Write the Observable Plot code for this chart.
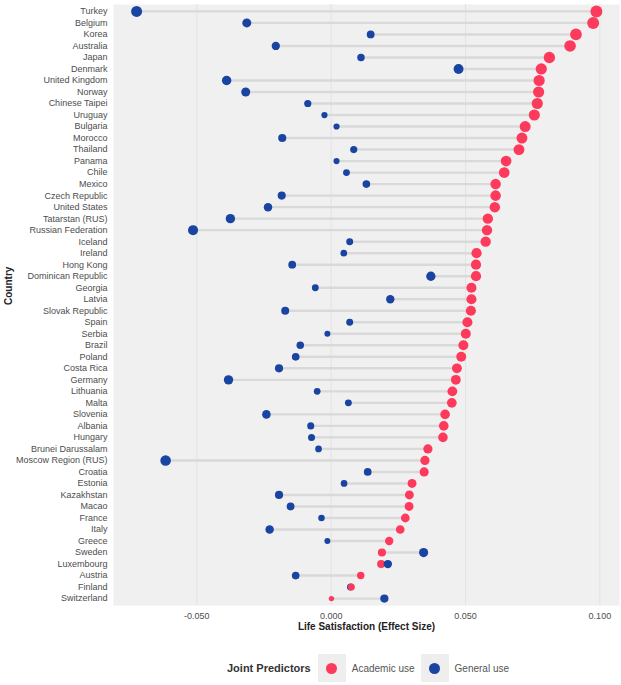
<!DOCTYPE html>
<html>
<head>
<meta charset="utf-8">
<script src="https://cdn.jsdelivr.net/npm/d3@7"></script>
<script src="https://cdn.jsdelivr.net/npm/@observablehq/plot@0.6"></script>
<style>
  html, body { margin: 0; padding: 0; background: #fff; }
  body { width: 621px; height: 685px; overflow: hidden; font-family: "Liberation Sans", Arial, sans-serif; }
  #legend { display: flex; align-items: center; height: 28px; padding-top: 14px; padding-left: 227px; }
  #legend .title { font-weight: bold; font-size: 11px; color: #333; margin-right: 7px; }
  #legend .key { width: 28px; height: 28px; background: #eeeeee; display: flex; align-items: center; justify-content: center; margin-right: 6px; }
  #legend .key span { width: 11px; height: 11px; border-radius: 50%; display: block; }
  #legend .lab { font-size: 10px; color: #555; margin-right: 6px; }
</style>
</head>
<body>
<div id="chart"></div>
<div id="legend"></div>
<script>
// Countries, ordered by the academic-use effect (largest first)
const countries = [
  "Turkey", "Belgium", "Korea", "Australia", "Japan", "Denmark", "United Kingdom",
  "Norway", "Chinese Taipei", "Uruguay", "Bulgaria", "Morocco", "Thailand",
  "Panama", "Chile", "Mexico", "Czech Republic", "United States", "Tatarstan (RUS)",
  "Russian Federation", "Iceland", "Ireland", "Hong Kong", "Dominican Republic",
  "Georgia", "Latvia", "Slovak Republic", "Spain", "Serbia", "Brazil", "Poland",
  "Costa Rica", "Germany", "Lithuania", "Malta", "Slovenia", "Albania", "Hungary",
  "Brunei Darussalam", "Moscow Region (RUS)", "Croatia", "Estonia", "Kazakhstan",
  "Macao", "France", "Italy", "Greece", "Sweden", "Luxembourg", "Austria",
  "Finland", "Switzerland"
];

// Effect size on life satisfaction: academic use of ICT
const academic = [
  0.0987, 0.0975, 0.0911, 0.0889, 0.0812, 0.0782, 0.0774, 0.0772, 0.0767, 0.0756,
  0.0722, 0.0710, 0.0699, 0.0651, 0.0644, 0.0612, 0.0612, 0.0609, 0.0583, 0.0580,
  0.0575, 0.0541, 0.0539, 0.0539, 0.0522, 0.0522, 0.0520, 0.0507, 0.0501, 0.0492,
  0.0484, 0.0468, 0.0464, 0.0451, 0.0449, 0.0424, 0.0419, 0.0416, 0.0360, 0.0349,
  0.0346, 0.0301, 0.0291, 0.0290, 0.0276, 0.0257, 0.0216, 0.0189, 0.0186, 0.0110,
  0.0075, 0.0001
];

// Effect size on life satisfaction: general use of ICT
const general = [
  -0.0724, -0.0314, 0.0147, -0.0206, 0.0111, 0.0474, -0.0389, -0.0318, -0.0087, -0.0025,
  0.0020, -0.0182, 0.0084, 0.0020, 0.0057, 0.0131, -0.0184, -0.0235, -0.0375, -0.0514,
  0.0069, 0.0047, -0.0145, 0.0371, -0.0059, 0.0220, -0.0171, 0.0069, -0.0014, -0.0115,
  -0.0132, -0.0194, -0.0382, -0.0052, 0.0064, -0.0241, -0.0076, -0.0073, -0.0047, -0.0616,
  0.0136, 0.0048, -0.0194, -0.0151, -0.0036, -0.0229, -0.0014, 0.0344, 0.0211, -0.0132,
  0.0072, 0.0198
];

const seriesNames = ["Academic use", "General use"];
const seriesColors = ["#fd3a5b", "#1a44a2"];
const xTicks = [-0.05, 0, 0.05, 0.1];

const pairs = countries.map((c, i) => ({country: c, academic: academic[i], general: general[i]}));
const points = countries.flatMap((c, i) => [
  {country: c, series: seriesNames[0], value: academic[i]},
  {country: c, series: seriesNames[1], value: general[i]}
]);

const font = "'Liberation Sans', Arial, sans-serif";

const plot = Plot.plot({
  width: 621,
  height: 640,
  marginLeft: 113,
  marginRight: 2,
  marginTop: 4,
  marginBottom: 35,
  style: {fontFamily: font, fontSize: "9px", color: "#4d4d4d", background: "#fff"},
  x: {domain: [-0.081, 0.1073]},
  y: {type: "point", domain: countries, padding: 0.6, round: false},
  r: {type: "sqrt", domain: [0, 0.1], range: [2.6, 6]},
  color: {domain: seriesNames, range: seriesColors},
  marks: [
    Plot.frame({fill: "#f0f0f0", stroke: null}),
    Plot.gridX({ticks: xTicks, stroke: "#e1e1e1", strokeOpacity: 1, strokeWidth: 0.9}),
    Plot.axisX({ticks: xTicks, tickSize: 0, tickPadding: 7, tickFormat: d => d.toFixed(3), label: null, fill: "#4d4d4d"}),
    Plot.axisY({tickSize: 0, tickPadding: 6, label: null, fill: "#4d4d4d"}),
    Plot.link(pairs, {x1: "academic", x2: "general", y1: "country", y2: "country", stroke: "#d9d9d9", strokeWidth: 2.4}),
    Plot.dot(points, {x: "value", y: "country", fill: "series", r: d => Math.abs(d.value), sort: {channel: "r"}}),
    Plot.text(["Life Satisfaction (Effect Size)"], {frameAnchor: "bottom", dy: 24, fontWeight: "bold", fontSize: 10, fill: "#222"}),
    Plot.text(["Country"], {frameAnchor: "left", dx: -105, rotate: -90, fontWeight: "bold", fontSize: 10, fill: "#222"})
  ]
});
document.getElementById("chart").appendChild(plot);

// Legend built from the plot's own color scale
const color = plot.scale("color");
const legend = document.getElementById("legend");
const title = document.createElement("div");
title.className = "title";
title.textContent = "Joint Predictors";
legend.appendChild(title);
color.domain.forEach((name, i) => {
  const key = document.createElement("div");
  key.className = "key";
  const sw = document.createElement("span");
  sw.style.background = color.range[i];
  key.appendChild(sw);
  legend.appendChild(key);
  const lab = document.createElement("div");
  lab.className = "lab";
  lab.textContent = name;
  legend.appendChild(lab);
});
</script>
</body>
</html>
